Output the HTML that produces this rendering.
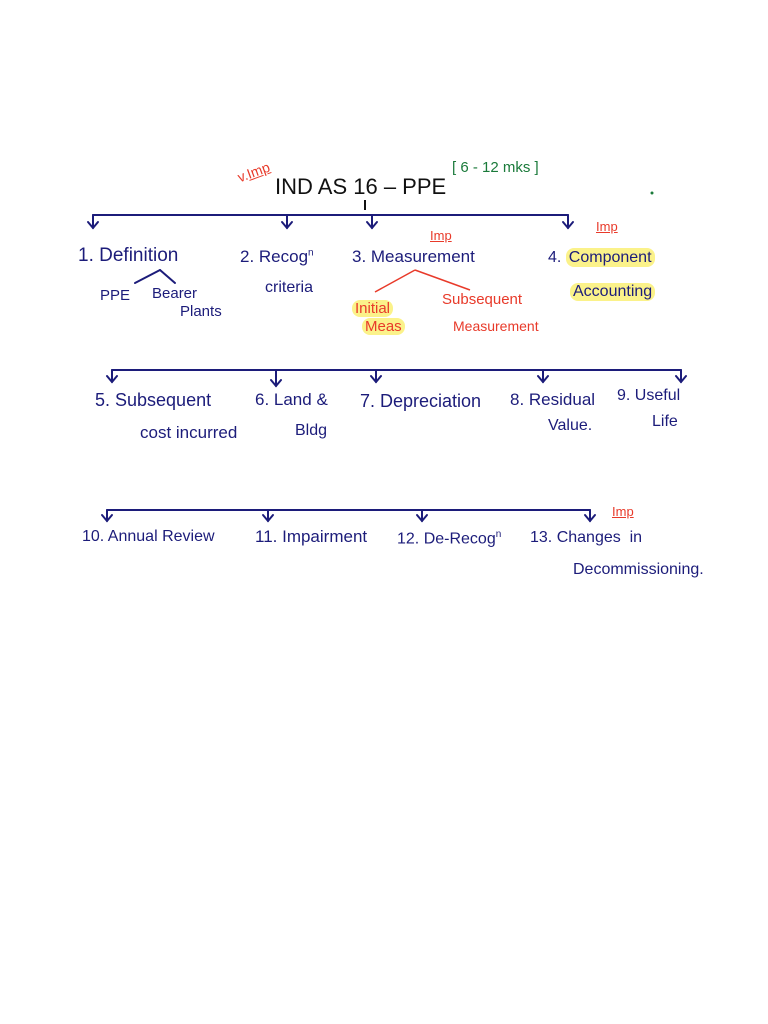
<!DOCTYPE html>
<html><head><meta charset="utf-8"><style>
body{margin:0;width:768px;height:1024px;background:#fff;position:relative;overflow:hidden;font-family:"Liberation Sans",sans-serif;}
.t{position:absolute;white-space:nowrap;color:#1c1c7a;font-size:18px;line-height:1;}
.r{color:#e83a2a;}
.g{color:#1a7a3a;}
.k{color:#111;}
.hl{background:#fbf28a;border-radius:8px;padding:1px 3px;}
svg{position:absolute;left:0;top:0;}
</style></head><body>
<svg width="768" height="1024">
<g stroke="#1c1c7a" stroke-width="2" fill="none" stroke-linecap="round">
<line x1="93" y1="215" x2="568" y2="215"/>
<line x1="93" y1="215" x2="93" y2="228"/><path d="M88 222 L93 228 L98 222"/>
<line x1="287" y1="215" x2="287" y2="228"/><path d="M282 222 L287 228 L292 222"/>
<line x1="372" y1="215" x2="372" y2="228"/><path d="M367 222 L372 228 L377 222"/>
<line x1="568" y1="215" x2="568" y2="228"/><path d="M563 222 L568 228 L573 222"/>
<line x1="135" y1="283" x2="160" y2="270"/><line x1="160" y1="270" x2="175" y2="283"/>
<line x1="112" y1="370" x2="681" y2="370"/>
<line x1="112" y1="370" x2="112" y2="382"/><path d="M107 376 L112 382 L117 376"/>
<line x1="276" y1="370" x2="276" y2="386"/><path d="M271 380 L276 386 L281 380"/>
<line x1="376" y1="370" x2="376" y2="382"/><path d="M371 376 L376 382 L381 376"/>
<line x1="543" y1="370" x2="543" y2="382"/><path d="M538 376 L543 382 L548 376"/>
<line x1="681" y1="370" x2="681" y2="382"/><path d="M676 376 L681 382 L686 376"/>
<line x1="107" y1="510" x2="590" y2="510"/>
<line x1="107" y1="510" x2="107" y2="521"/><path d="M102 515 L107 521 L112 515"/>
<line x1="268" y1="510" x2="268" y2="521"/><path d="M263 515 L268 521 L273 515"/>
<line x1="422" y1="510" x2="422" y2="521"/><path d="M417 515 L422 521 L427 515"/>
<line x1="590" y1="510" x2="590" y2="521"/><path d="M585 515 L590 521 L595 515"/>
</g>
<line x1="365" y1="200" x2="365" y2="210" stroke="#111" stroke-width="2"/>
<g stroke="#e83a2a" stroke-width="1.5"><line x1="415" y1="270" x2="375" y2="292"/><line x1="415" y1="270" x2="470" y2="290"/></g>
<circle cx="652" cy="193" r="1.5" fill="#1a7a3a"/>
</svg>
<div class="t r" style="left:237px;top:165px;font-size:14px;transform:rotate(-20deg)">v.<u>Imp</u></div>
<div class="t k" style="left:275px;top:176px;font-size:22px">IND AS 16 – PPE</div>
<div class="t g" style="left:452px;top:160px;font-size:15px">[ 6 - 12 mks ]</div>

<div class="t" style="left:78px;top:246px;font-size:19px">1. Definition</div>
<div class="t" style="left:100px;top:288px;font-size:15px">PPE</div>
<div class="t" style="left:152px;top:286px;font-size:15px">Bearer</div>
<div class="t" style="left:180px;top:304px;font-size:15px">Plants</div>
<div class="t" style="left:240px;top:248px;font-size:17px">2. Recog<sup style="font-size:10px">n</sup></div>
<div class="t" style="left:265px;top:280px;font-size:16px">criteria</div>
<div class="t" style="left:352px;top:248px;font-size:17px">3. Measurement</div>
<div class="t r" style="left:430px;top:229px;font-size:13px"><u>Imp</u></div>
<div class="t r hl" style="left:352px;top:300px;font-size:15px">Initial</div>
<div class="t r hl" style="left:362px;top:318px;font-size:15px">Meas</div>
<div class="t r" style="left:442px;top:292px;font-size:15px">Subsequent</div>
<div class="t r" style="left:453px;top:319px;font-size:14px">Measurement</div>
<div class="t r" style="left:596px;top:220px;font-size:13px"><u>Imp</u></div>
<div class="t" style="left:548px;top:250px;font-size:16px">4. <span class="hl">Component</span></div>
<div class="t hl" style="left:570px;top:283px;font-size:16px">Accounting</div>

<div class="t" style="left:95px;top:391px;font-size:18px">5. Subsequent</div>
<div class="t" style="left:140px;top:424px;font-size:17px">cost incurred</div>
<div class="t" style="left:255px;top:391px;font-size:17px">6. Land &amp;</div>
<div class="t" style="left:295px;top:423px;font-size:16px">Bldg</div>
<div class="t" style="left:360px;top:392px;font-size:18px">7. Depreciation</div>
<div class="t" style="left:510px;top:391px;font-size:17px">8. Residual</div>
<div class="t" style="left:548px;top:418px;font-size:16px">Value.</div>
<div class="t" style="left:617px;top:388px;font-size:16px">9. Useful</div>
<div class="t" style="left:652px;top:414px;font-size:16px">Life</div>

<div class="t r" style="left:612px;top:505px;font-size:13px"><u>Imp</u></div>
<div class="t" style="left:82px;top:529px;font-size:16px">10. Annual Review</div>
<div class="t" style="left:255px;top:528px;font-size:17px">11. Impairment</div>
<div class="t" style="left:397px;top:530px;font-size:16px">12. De-Recog<sup style="font-size:10px">n</sup></div>
<div class="t" style="left:530px;top:530px;font-size:16px">13. Changes &nbsp;in</div>
<div class="t" style="left:573px;top:562px;font-size:16px">Decommissioning.</div>
</body></html>
